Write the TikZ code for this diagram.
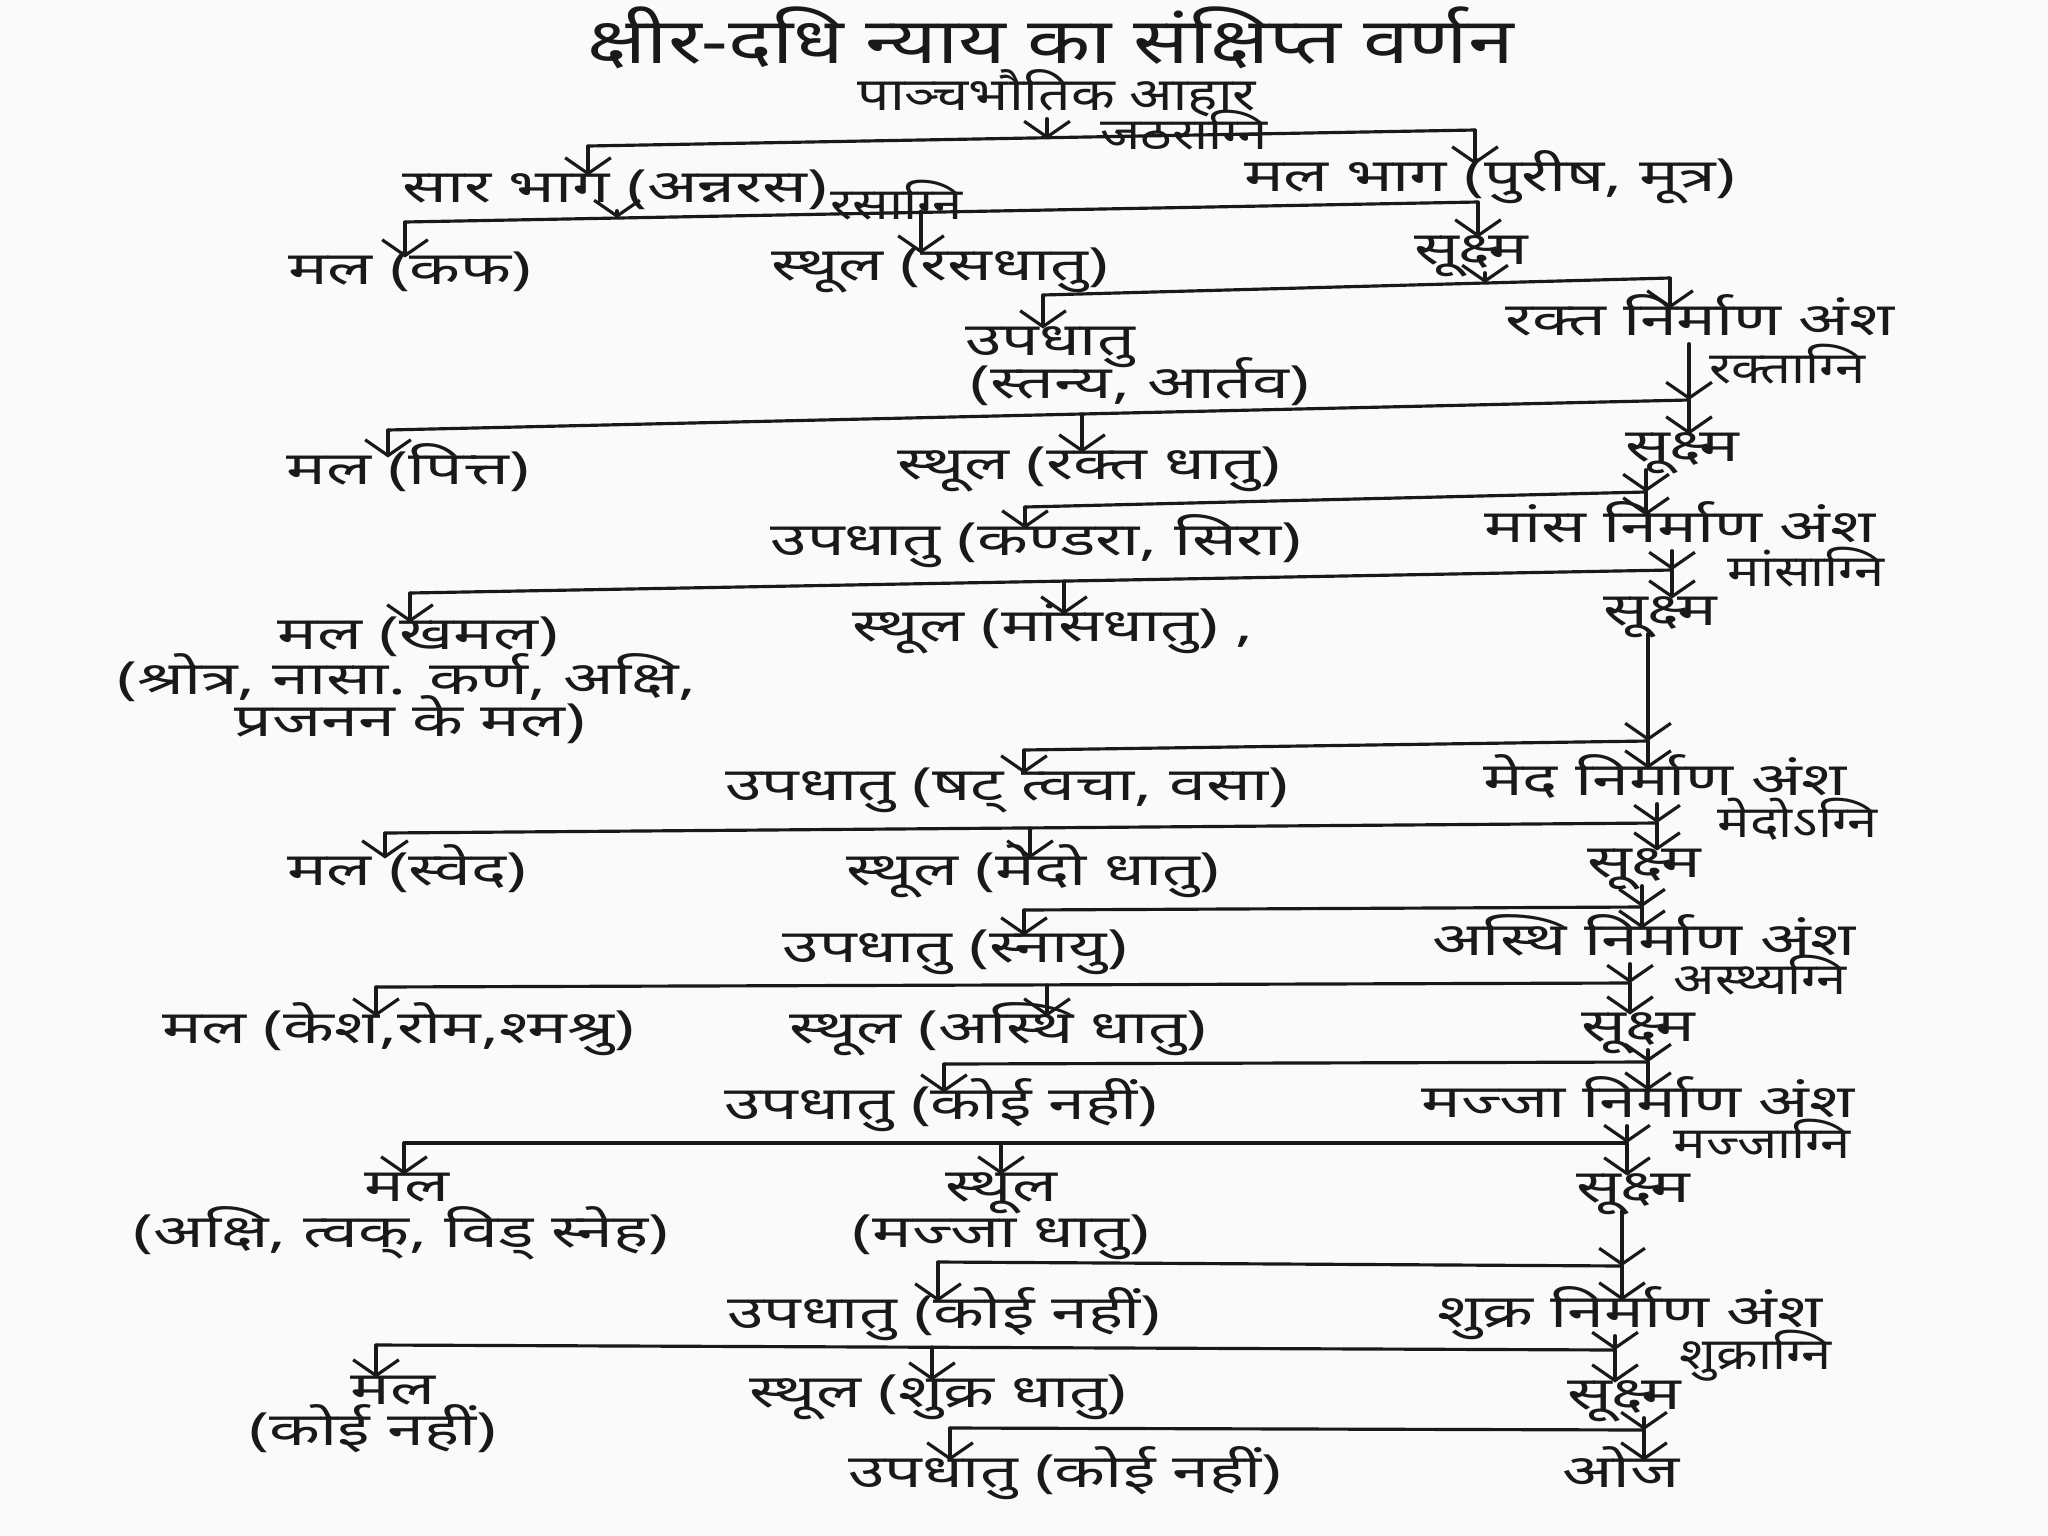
\documentclass[tikz,border=0pt]{standalone}
\usepackage{fontspec}
\newfontfamily\dev[Script=Devanagari, FakeStretch=1.45]{Noto Sans}
\newfontfamily\devt[Script=Devanagari, FakeStretch=1.3]{Noto Sans}
\usetikzlibrary{arrows.meta}
\definecolor{paper}{RGB}{250,250,250}
\definecolor{ink}{RGB}{25,25,25}
\newcommand\agtext[1]{\scalebox{0.85}[1]{#1}}
\begin{document}
\begin{tikzpicture}[x=0.01cm,y=-0.01cm,
  lbl/.style={font=\dev\fontsize{13}{15}\selectfont, text=ink, inner sep=0pt, text height=7.6pt, text depth=2pt, yshift=-2.3pt},
  agni/.style={lbl, anchor=west, font=\dev\fontsize{12.5}{15}\selectfont},
  ttl/.style={font=\devt\bfseries\fontsize{18}{22}\selectfont, text=ink, inner sep=0pt},
  ln/.style={draw=ink, line width=0.9pt, line cap=round},
  arr/.style={ln, -{Straight Barb[length=4.5pt,width=13pt]}}]
\fill[paper] (0,0) rectangle (2048,1536);
\useasboundingbox (0,0) rectangle (2048,1536);

% title
\node[ttl] (T) at (1051,38) {क्षीर-दधि न्याय का संक्षिप्त वर्णन};

% nodes
\node[lbl] (A0) at (1057,93) {\scalebox{0.86}[1]{पाञ्चभौतिक आहार}};
\node[lbl] (A1) at (615,185) {सार भाग (अन्नरस)};
\node[lbl] (A2) at (1490,174) {मल भाग (पुरीष, मूत्र)};

\node[lbl] (B1) at (410,267) {मल (कफ)};
\node[lbl] (B2) at (940,263) {स्थूल (रसधातु)};
\node[lbl] (B3) at (1471,247) {सूक्ष्म};

\node[lbl] (C1) at (1050,338) {उपधातु};
\node[lbl] (C1b) at (1140,381) {(स्तन्य, आर्तव)};
\node[lbl] (C2) at (1700,318) {रक्त निर्माण अंश};

\node[lbl] (D1) at (408,467) {मल (पित्त)};
\node[lbl] (D2) at (1089,462) {स्थूल (रक्त धातु)};
\node[lbl] (D3) at (1682,444) {सूक्ष्म};

\node[lbl] (E1) at (1036,538) {उपधातु (कण्डरा, सिरा)};
\node[lbl] (E2) at (1680,525) {मांस निर्माण अंश};

\node[lbl] (F1) at (418,632) {मल (खमल)};
\node[lbl] (F1b) at (407,677) {(श्रोत्र, नासा. कर्ण, अक्षि,};
\node[lbl] (F1c) at (410,719) {प्रजनन के मल)};
\node[lbl] (F2) at (1053,624) {स्थूल (मांसधातु) ,};
\node[lbl] (F3) at (1660,608) {सूक्ष्म};

\node[lbl] (G1) at (1007,783) {उपधातु (षट् त्वचा, वसा)};
\node[lbl] (G2) at (1665,778) {मेद निर्माण अंश};

\node[lbl] (H1) at (407,868) {मल (स्वेद)};
\node[lbl] (H2) at (1033,868) {स्थूल (मेदो धातु)};
\node[lbl] (H3) at (1644,860) {सूक्ष्म};

\node[lbl] (I1) at (955,945) {उपधातु (स्नायु)};
\node[lbl] (I2) at (1644,938) {अस्थि निर्माण अंश};

\node[lbl] (J1) at (398,1026) {मल (केश,रोम,श्मश्रु)};
\node[lbl] (J2) at (998,1026) {स्थूल (अस्थि धातु)};
\node[lbl] (J3) at (1638,1024) {सूक्ष्म};

\node[lbl] (K1) at (941,1102) {उपधातु (कोई नहीं)};
\node[lbl] (K2) at (1638,1100) {मज्जा निर्माण अंश};

\node[lbl] (L1) at (407,1184) {मल};
\node[lbl] (L1b) at (401,1230) {(अक्षि, त्वक्, विड् स्नेह)};
\node[lbl] (L2) at (1001,1184) {स्थूल};
\node[lbl] (L2b) at (1001,1230) {(मज्जा धातु)};
\node[lbl] (L3) at (1633,1185) {सूक्ष्म};

\node[lbl] (M1) at (944,1311) {उपधातु (कोई नहीं)};
\node[lbl] (M2) at (1630,1310) {शुक्र निर्माण अंश};

\node[lbl] (N1) at (393,1387) {मल};
\node[lbl] (N1b) at (373,1428) {(कोई नहीं)};
\node[lbl] (N2) at (938,1390) {स्थूल (शुक्र धातु)};
\node[lbl] (N3) at (1624,1392) {सूक्ष्म};

\node[lbl] (O1) at (1065,1470) {उपधातु (कोई नहीं)};
\node[lbl] (O2) at (1621,1470) {ओज};

% agni labels
\node[agni] (g0) at (1100,132) {\agtext{जठराग्नि}};
\node[agni] (g1) at (830,202) {\agtext{रसाग्नि}};
\node[agni] (g2) at (1709,366) {\agtext{रक्ताग्नि}};
\node[agni] (g3) at (1727,569) {\agtext{मांसाग्नि}};
\node[agni] (g4) at (1717,820) {\agtext{मेदोऽग्नि}};
\node[agni] (g5) at (1673,977) {\agtext{अस्थ्यग्नि}};
\node[agni] (g6) at (1673,1141) {\agtext{मज्जाग्नि}};
\node[agni] (g7) at (1679,1352) {\agtext{शुक्राग्नि}};

% junction coordinates
\coordinate (l0) at (588,146); \coordinate (j0) at (1047,139); \coordinate (r0) at (1475,130);
\coordinate (l1) at (405,222); \coordinate (j1) at (617,218); \coordinate (m1) at (921,211); \coordinate (r1) at (1478,202);
\coordinate (l2) at (1043,295); \coordinate (j2) at (1485,283); \coordinate (r2) at (1670,278);
\coordinate (l3) at (388,430); \coordinate (m3) at (1082,414); \coordinate (j3) at (1689,400);
\coordinate (l4) at (1025,507); \coordinate (j4) at (1646,492);
\coordinate (l5) at (410,593); \coordinate (m5) at (1064,581); \coordinate (j5) at (1672,570);
\coordinate (l6) at (1024,750); \coordinate (j6) at (1648,741);
\coordinate (l7) at (385,833); \coordinate (m7) at (1030,828); \coordinate (j7) at (1657,823);
\coordinate (l8) at (1024,910); \coordinate (j8) at (1642,907);
\coordinate (l9) at (376,987); \coordinate (m9) at (1047,985); \coordinate (j9) at (1630,983);
\coordinate (l10) at (944,1064); \coordinate (j10) at (1648,1062);
\coordinate (l11) at (404,1143); \coordinate (m11) at (1001,1143); \coordinate (j11) at (1627,1143);
\coordinate (l12) at (938,1262); \coordinate (j12) at (1622,1266);
\coordinate (l13) at (376,1345); \coordinate (m13) at (932,1347); \coordinate (j13) at (1615,1350);
\coordinate (l14) at (950,1428); \coordinate (j14) at (1644,1430);

% level 0
\draw[arr] (A0.south -| j0) -- (j0);
\draw[ln] (l0) -- (r0);
\draw[arr] (l0) -- (l0 |- A1.north);
\draw[arr] (r0) -- (r0 |- A2.north);
% level 1
\draw[arr] (A1.south -| j1) -- (j1);
\draw[ln] (l1) -- (r1);
\draw[arr] (l1) -- (l1 |- B1.north);
\draw[arr] (m1) -- (m1 |- B2.north);
\draw[arr] (r1) -- (r1 |- B3.north);
\draw[arr] (B3.south -| j2) -- (j2);
\draw[ln] (l2) -- (r2);
\draw[arr] (l2) -- (l2 |- C1.north);
\draw[arr] (r2) -- (r2 |- C2.north);
% level 2
\draw[arr] (C2.south -| j3) -- (j3);
\draw[ln] (l3) -- (j3);
\draw[arr] (l3) -- (l3 |- D1.north);
\draw[arr] (m3) -- (m3 |- D2.north);
\draw[arr] (j3) -- (j3 |- D3.north);
\draw[arr] (D3.south -| j4) -- (j4);
\draw[ln] (l4) -- (j4);
\draw[arr] (l4) -- (l4 |- E1.north);
\draw[arr] (j4) -- (j4 |- E2.north);
% level 3
\draw[arr] (E2.south -| j5) -- (j5);
\draw[ln] (l5) -- (j5);
\draw[arr] (l5) -- (l5 |- F1.north);
\draw[arr] (m5) -- (m5 |- F2.north);
\draw[arr] (j5) -- (j5 |- F3.north);
\draw[arr] (F3.south -| j6) -- (j6);
\draw[ln] (l6) -- (j6);
\draw[arr] (l6) -- (l6 |- G1.north);
\draw[arr] (j6) -- (j6 |- G2.north);
% level 4
\draw[arr] (G2.south -| j7) -- (j7);
\draw[ln] (l7) -- (j7);
\draw[arr] (l7) -- (l7 |- H1.north);
\draw[arr] (m7) -- (m7 |- H2.north);
\draw[arr] (j7) -- (j7 |- H3.north);
\draw[arr] (H3.south -| j8) -- (j8);
\draw[ln] (l8) -- (j8);
\draw[arr] (l8) -- (l8 |- I1.north);
\draw[arr] (j8) -- (j8 |- I2.north);
% level 5
\draw[arr] (I2.south -| j9) -- (j9);
\draw[ln] (l9) -- (j9);
\draw[arr] (l9) -- (l9 |- J1.north);
\draw[arr] (m9) -- (m9 |- J2.north);
\draw[arr] (j9) -- (j9 |- J3.north);
\draw[arr] (J3.south -| j10) -- (j10);
\draw[ln] (l10) -- (j10);
\draw[arr] (l10) -- (l10 |- K1.north);
\draw[arr] (j10) -- (j10 |- K2.north);
% level 6
\draw[arr] (K2.south -| j11) -- (j11);
\draw[ln] (l11) -- (j11);
\draw[arr] (l11) -- (l11 |- L1.north);
\draw[arr] (m11) -- (m11 |- L2.north);
\draw[arr] (j11) -- (j11 |- L3.north);
\draw[arr] (L3.south -| j12) -- (j12);
\draw[ln] (l12) -- (j12);
\draw[arr] (l12) -- (l12 |- M1.north);
\draw[arr] (j12) -- (j12 |- M2.north);
% level 7
\draw[arr] (M2.south -| j13) -- (j13);
\draw[ln] (l13) -- (j13);
\draw[arr] (l13) -- (l13 |- N1.north);
\draw[arr] (m13) -- (m13 |- N2.north);
\draw[arr] (j13) -- (j13 |- N3.north);
\draw[arr] (N3.south -| j14) -- (j14);
\draw[ln] (l14) -- (j14);
\draw[arr] (l14) -- (l14 |- O1.north);
\draw[arr] (j14) -- (j14 |- O2.north);
\end{tikzpicture}
\end{document}
